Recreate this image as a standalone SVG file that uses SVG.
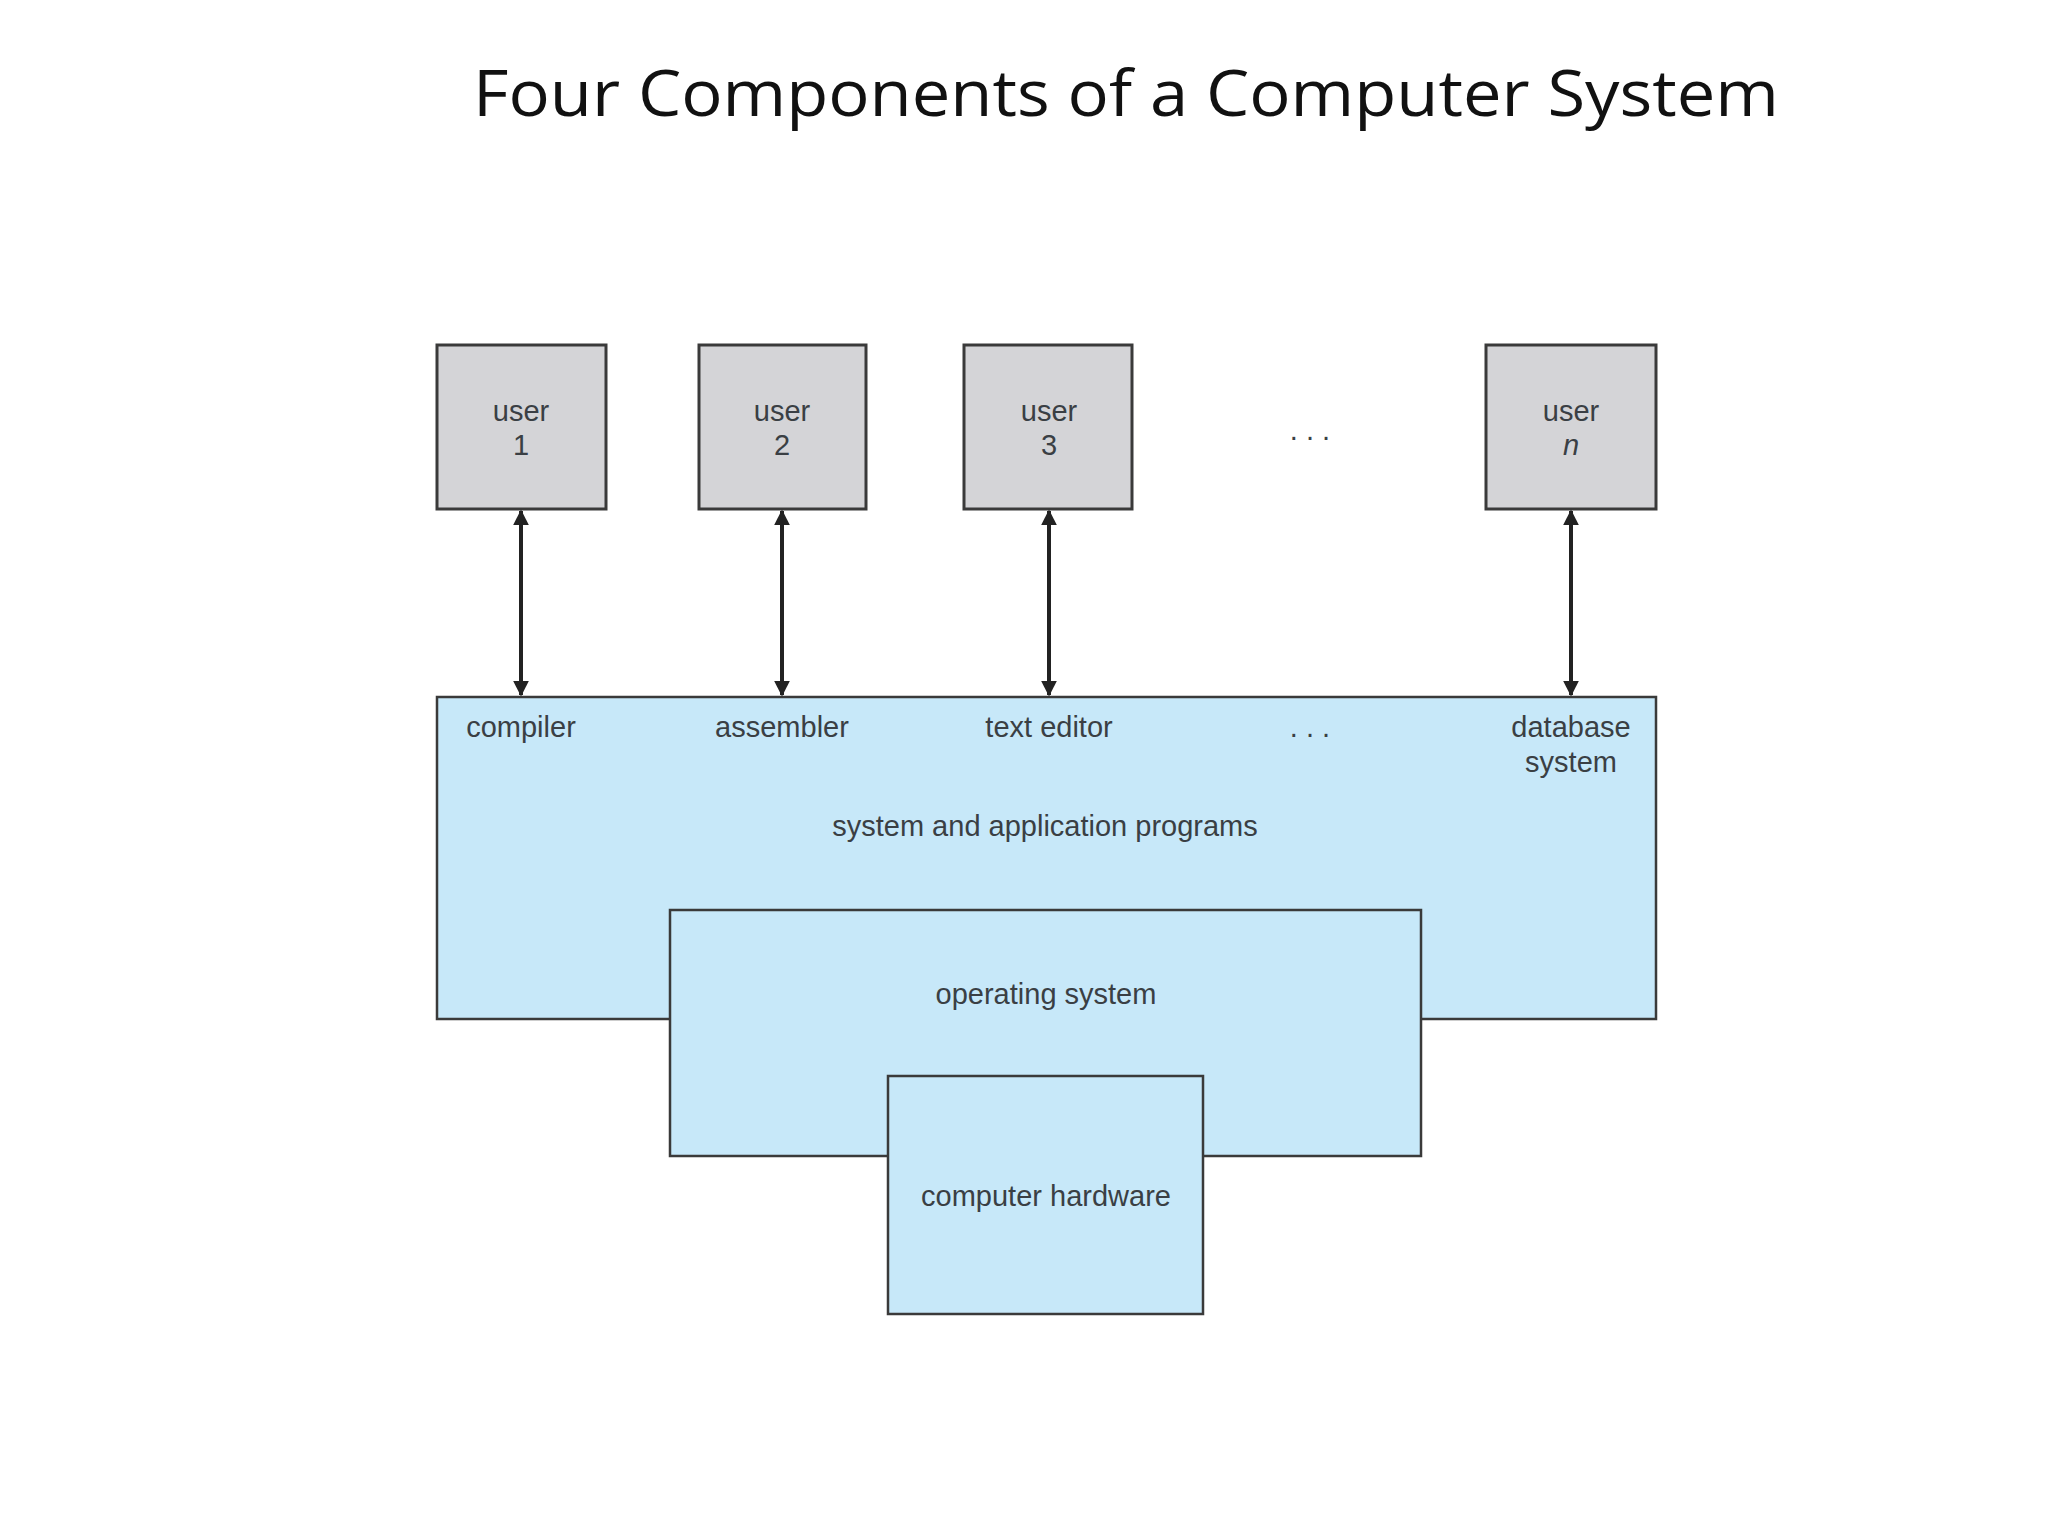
<svg xmlns="http://www.w3.org/2000/svg" width="2048" height="1536" viewBox="0 0 2048 1536">
<style>
.u{fill:#d4d4d7;stroke:#3a3a3a;stroke-width:3}
.b{fill:#c7e8f9;stroke:#3a3a3a;stroke-width:2.5}
.t{font-family:"Liberation Sans",Arial,sans-serif;font-size:29px;fill:#3a3f44;text-anchor:middle}
.c{stroke:#222;stroke-width:4;fill:none;marker-start:url(#ah);marker-end:url(#ah)}
</style>
<defs><marker id="ah" viewBox="0 0 10 10" refX="9" refY="5" markerWidth="4" markerHeight="4.5" orient="auto-start-reverse" markerUnits="strokeWidth"><path d="M0,0 L10,5 L0,10 z" fill="#222"/></marker></defs>
<rect width="2048" height="1536" fill="#fff"/>
<text x="1126" y="116" font-family="'Open Sans',sans-serif" font-size="64" fill="#111" text-anchor="middle" textLength="1306" lengthAdjust="spacingAndGlyphs">Four Components of a Computer System</text>
<g id="apps"><rect class="b" x="437" y="697" width="1219" height="322"/>
<text class="t" x="521" y="737">compiler</text><text class="t" x="782" y="737">assembler</text><text class="t" x="1049" y="737">text editor</text>
<text class="t" x="1310" y="737">. . .</text>
<text class="t" x="1571" y="737">database</text><text class="t" x="1571" y="772">system</text>
<text class="t" x="1045" y="836">system and application programs</text></g>
<g id="os"><rect class="b" x="670" y="910" width="751" height="246"/><text class="t" x="1046" y="1004">operating system</text></g>
<g id="hw"><rect class="b" x="888" y="1076" width="315" height="238"/><text class="t" x="1046" y="1206">computer hardware</text></g>
<g id="user1"><rect class="u" x="437" y="345" width="169" height="164"/><text class="t" x="521" y="421">user</text><text class="t" x="521" y="455">1</text></g>
<g id="user2"><rect class="u" x="699" y="345" width="167" height="164"/><text class="t" x="782" y="421">user</text><text class="t" x="782" y="455">2</text></g>
<g id="user3"><rect class="u" x="964" y="345" width="168" height="164"/><text class="t" x="1049" y="421">user</text><text class="t" x="1049" y="455">3</text></g>
<g id="dots"><text class="t" x="1310" y="440" font-size="34">. . .</text></g>
<g id="usern"><rect class="u" x="1486" y="345" width="170" height="164"/><text class="t" x="1571" y="421">user</text><text class="t" x="1571" y="455" font-style="italic">n</text></g>
<g id="connectors">
<line class="c" x1="521" y1="511" x2="521" y2="695"/>
<line class="c" x1="782" y1="511" x2="782" y2="695"/>
<line class="c" x1="1049" y1="511" x2="1049" y2="695"/>
<line class="c" x1="1571" y1="511" x2="1571" y2="695"/>
</g>
</svg>
